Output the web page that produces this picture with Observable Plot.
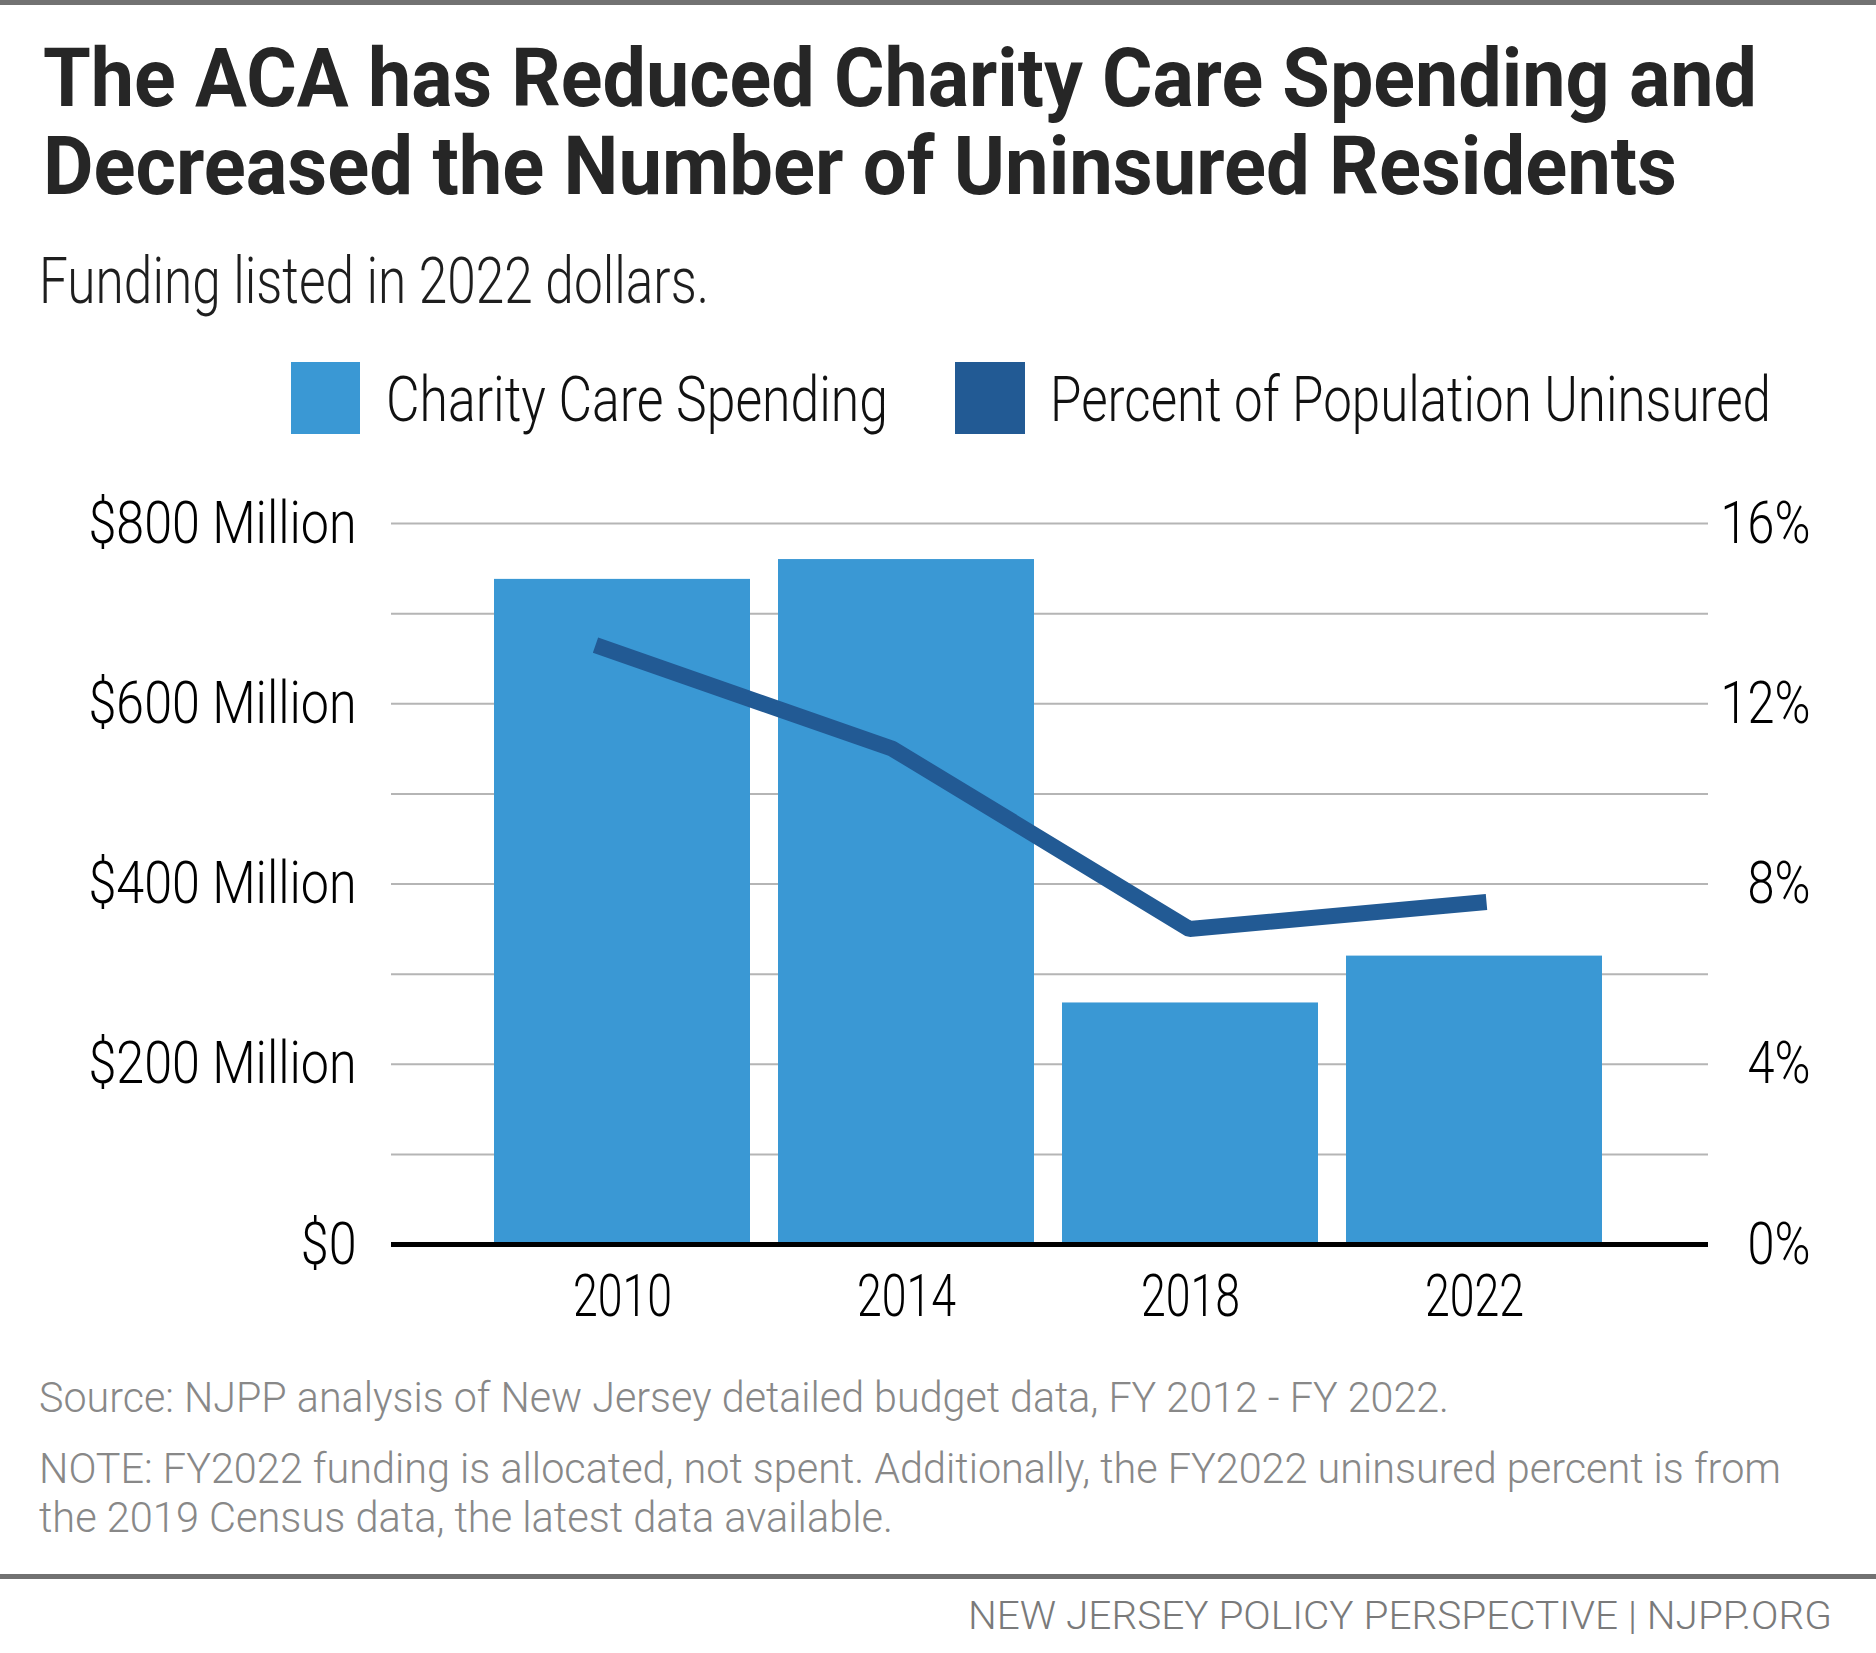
<!DOCTYPE html>
<html>
<head>
<meta charset="utf-8">
<script src="https://cdn.jsdelivr.net/npm/d3@7"></script>
<script src="https://cdn.jsdelivr.net/npm/@observablehq/plot@0.6"></script>
<style>
  html, body { margin: 0; padding: 0; background: #fff; }
  #page { position: relative; width: 1876px; height: 1653px; overflow: hidden; background: #fff;
          font-family: Roboto, "DejaVu Sans Condensed", "DejaVu Sans", sans-serif; }
  .txt { position: absolute; white-space: nowrap; line-height: 1; transform-origin: 0 0; }
  .rule { position: absolute; left: 0; width: 1876px; background: #727272; }
  .swatch { position: absolute; }
  #chart { position: absolute; left: 0; top: 460px; width: 1876px; height: 900px; }
  #chart svg { position: absolute; left: 0; top: 0; }
</style>
</head>
<body>
<div id="page"><div id="chart"></div></div>
<script>
// ---- data ----
const years = ["2010", "2014", "2018", "2022"];
const spending = [738, 760, 268, 320];          // charity care spending, $ millions (2022 dollars)
const uninsured = [13.3, 11.0, 7.0, 7.6];       // percent of population uninsured
const spendingTicks = [0, 200, 400, 600, 800];
const spendingGrid = [100, 200, 300, 400, 500, 600, 700, 800];
const uninsuredTicks = [0, 4, 8, 12, 16];
const seriesNames = ["Charity Care Spending", "Percent of Population Uninsured"];
const seriesColors = ["#3a98d4", "#225a94"];

const titleLines = ["The ACA has Reduced Charity Care Spending and",
                    "Decreased the Number of Uninsured Residents"];
const subtitle = "Funding listed in 2022 dollars.";
const sourceNote = "Source: NJPP analysis of New Jersey detailed budget data, FY 2012 - FY 2022.";
const noteLines = ["NOTE: FY2022 funding is allocated, not spent. Additionally, the FY2022 uninsured percent is from",
                   "the 2019 Census data, the latest data available."];
const footer = "NEW JERSEY POLICY PERSPECTIVE | NJPP.ORG";

const rows = years.map((year, i) => ({year, spending: spending[i], uninsured: uninsured[i]}));

const FONT = 'Roboto, "DejaVu Sans Condensed", "DejaVu Sans", sans-serif';
const page = document.getElementById("page");

// Place a text line by its baseline, condensed horizontally to a given width.
function placeText(str, {x, baseline, width, size, weight = 400, color = "#222", anchor = "start"}) {
  const el = document.createElement("div");
  el.className = "txt";
  el.style.fontSize = size + "px";
  el.style.fontWeight = weight;
  el.style.color = color;
  el.textContent = str;
  const marker = document.createElement("span");
  marker.style.cssText = "display:inline-block;width:0;height:0;vertical-align:baseline;";
  el.appendChild(marker);
  el.style.left = "0px"; el.style.top = "0px";
  page.appendChild(el);
  const box = el.getBoundingClientRect();
  const base = marker.getBoundingClientRect().top - box.top;
  const sx = width ? width / box.width : 1;
  el.style.transform = `scaleX(${sx})`;
  el.style.left = (anchor === "end" ? x - box.width * sx : x) + "px";
  el.style.top = (baseline - base) + "px";
  return el;
}

function block(cls, style) {
  const d = document.createElement("div");
  d.className = cls;
  Object.assign(d.style, style);
  page.appendChild(d);
  return d;
}

// rules at top and above the footer
block("rule", {top: "0px", height: "5px"});
block("rule", {top: "1574px", height: "5px"});

// title and subtitle
placeText(titleLines[0], {x: 43, baseline: 106, width: 1714, size: 81, weight: 700, color: "#262626"});
placeText(titleLines[1], {x: 43, baseline: 194, width: 1634, size: 81, weight: 700, color: "#262626"});
placeText(subtitle, {x: 39, baseline: 303, width: 670, size: 65, weight: 300, color: "#1e1e1e"});

// legend
block("swatch", {left: "291px", top: "362px", width: "69px", height: "72px", background: seriesColors[0]});
placeText(seriesNames[0], {x: 386, baseline: 421, width: 502, size: 63, weight: 300, color: "#111"});
block("swatch", {left: "955px", top: "362px", width: "70px", height: "72px", background: seriesColors[1]});
placeText(seriesNames[1], {x: 1050, baseline: 421, width: 721, size: 63, weight: 300, color: "#111"});

// notes and footer
placeText(sourceNote, {x: 39, baseline: 1412, width: 1410, size: 42, weight: 300, color: "#888"});
placeText(noteLines[0], {x: 39, baseline: 1483, width: 1742, size: 42, weight: 300, color: "#888"});
placeText(noteLines[1], {x: 39, baseline: 1532, width: 854, size: 42, weight: 300, color: "#888"});
placeText(footer, {x: 1832, baseline: 1629, width: 864, size: 38, weight: 300, color: "#7a7a7a", anchor: "end"});

// ---- chart ----
const W = 1876, H = 900;
const frame = {marginTop: 63, marginBottom: 116, marginLeft: 391, marginRight: 168};
const chart = document.getElementById("chart");

const barPlot = Plot.plot({
  width: W, height: H, ...frame,
  style: {background: "transparent", fontFamily: FONT, fontWeight: 300, color: "#000", overflow: "visible"},
  x: {type: "band", domain: years, paddingInner: 0.1, paddingOuter: 0, insetLeft: 101, insetRight: 105, axis: null},
  y: {domain: [0, 800], axis: null},
  marks: [
    Plot.ruleY(spendingGrid, {stroke: "#b5b5b5", strokeWidth: 2}),
    Plot.barY(rows, {x: "year", y: "spending", fill: seriesColors[0]}),
    Plot.ruleY([0], {stroke: "#000", strokeWidth: 5}),
    Plot.axisY(spendingTicks, {anchor: "left", label: null, tickSize: 0, tickPadding: 35, fontSize: 60,
      tickFormat: d => d === 0 ? "$0" : `$${d} Million`}),
    Plot.axisX({anchor: "bottom", label: null, tickSize: 0, tickPadding: 29, fontSize: 60})
  ]
});

const linePlot = Plot.plot({
  width: W, height: H, ...frame,
  style: {background: "transparent", fontFamily: FONT, fontWeight: 300, color: "#000", overflow: "visible"},
  x: {type: "point", domain: years, padding: 0, insetLeft: 203, insetRight: 221, axis: null},
  y: {domain: [0, 16], axis: null},
  marks: [
    Plot.line(rows, {x: "year", y: "uninsured", stroke: seriesColors[1], strokeWidth: 16,
      strokeLinejoin: "miter", strokeLinecap: "butt"}),
    Plot.axisY(uninsuredTicks, {anchor: "right", label: null, tickSize: 0, tickPadding: 102, textAnchor: "end",
      fontSize: 60, tickFormat: d => `${d}%`})
  ]
});

chart.appendChild(barPlot);
chart.appendChild(linePlot);

// Condense the tick labels of one axis so a reference label has a given width.
function squeeze(svg, prefix, refText, refWidth) {
  const texts = [...svg.querySelectorAll(`g[aria-label^="${prefix}"] text`)];
  if (!texts.length) return;
  const ref = texts.find(t => t.textContent === refText) || texts[0];
  const k = refWidth / ref.getComputedTextLength();
  for (const t of texts) {
    t.setAttribute("textLength", t.getComputedTextLength() * k);
    t.setAttribute("lengthAdjust", "spacingAndGlyphs");
  }
}
squeeze(barPlot, "y-axis tick label", "$800 Million", 268);
squeeze(barPlot, "x-axis tick label", "2010", 99);
squeeze(linePlot, "y-axis tick label", "16%", 90);
</script>
</body>
</html>
